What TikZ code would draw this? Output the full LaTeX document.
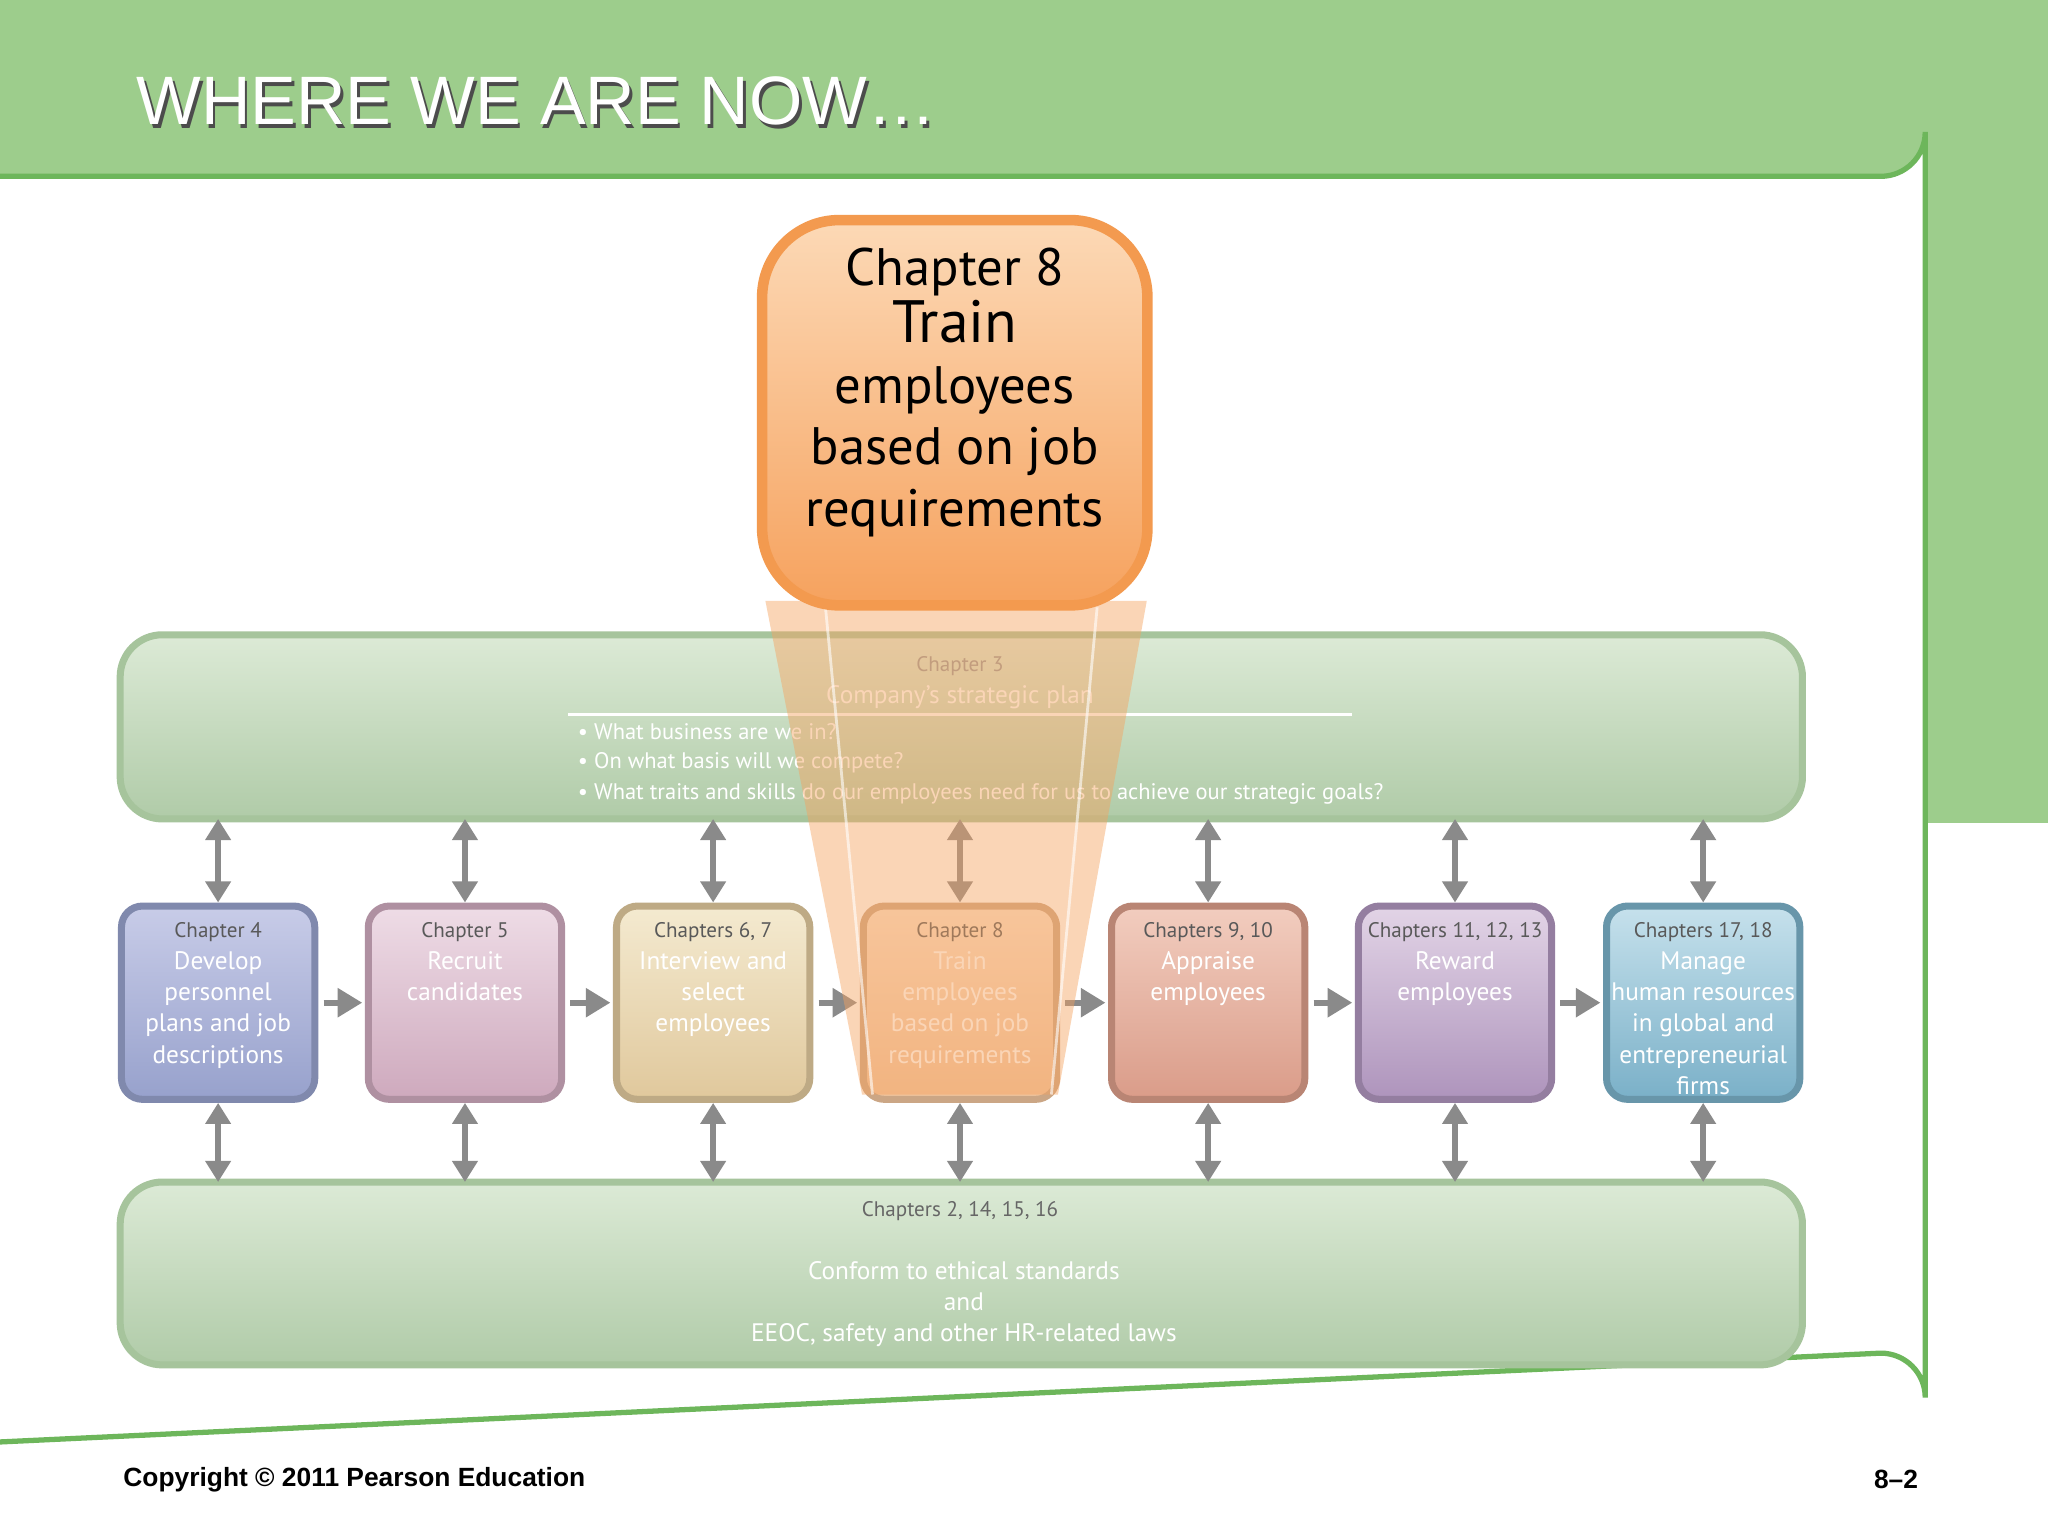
\documentclass[tikz,border=0pt]{standalone}
\usepackage{fontspec}
\setmainfont{PT Sans}
\newfontfamily\arial{Liberation Sans}
\usetikzlibrary{arrows.meta,calc}
\definecolor{hdr}{HTML}{9DCD8C}
\definecolor{hdrline}{HTML}{6DB65B}
\definecolor{gtop}{HTML}{DCEAD6}
\definecolor{gbot}{HTML}{B0CBA8}
\definecolor{gbord}{HTML}{A6C49C}
\definecolor{arr}{HTML}{8A8A8A}
\definecolor{orT}{HTML}{FCD9B6}
\definecolor{orB}{HTML}{F6A25E}
\definecolor{orBd}{HTML}{F39A4F}
\tikzset{
 px/.style={x=0.013061cm,y=-0.013061cm},
 panel/.style={rounded corners=12pt,draw=gbord,line width=2pt,top color=gtop,bottom color=gbot},
 chbox/.style={rounded corners=6pt,line width=2pt,minimum width=148*0.013061cm,minimum height=148*0.013061cm,anchor=north},
 chlab/.style={text=black!65,font=\fontsize{6}{7}\selectfont,anchor=north},
 chtxt/.style={text=white,font=\fontsize{7.2}{8.9}\selectfont,align=center,anchor=north},
 dbl/.style={arr,line width=1.6pt,{Triangle[length=6pt,width=7pt]}-{Triangle[length=6pt,width=7pt]}},
 rarr/.style={arr,line width=1.6pt,-{Triangle[length=7pt,width=8pt]}},
}
\begin{document}
\begin{tikzpicture}[px]
\useasboundingbox (0,0) rectangle (1568,1176);
% header
\fill[hdr] (0,0) rectangle (1568,135);
\fill[hdr] (1400,0) rectangle (1568,630);
\fill[white,draw=hdrline,line width=1.5pt] (0,135) -- (1440,135) arc[start angle=90,end angle=0,radius=34] -- (1474,1070) arc[start angle=0,end angle=-90,radius=34] -- (0,1104);
\node[anchor=west,text=black!70,font=\arial\fontsize{19.5}{22}\selectfont] at (97,80) {WHERE WE ARE NOW…};
\node[anchor=west,text=white,font=\arial\fontsize{19.5}{22}\selectfont] (title) at (95,77) {WHERE WE ARE NOW…};
% top panel
\draw[panel] (92,486) rectangle (1380,627);
\node[text=black!40,font=\fontsize{6}{7}\selectfont] (c3) at (735,510) {Chapter 3};
\node[text=white,font=\fontsize{7.2}{8}\selectfont] (c3t) at (735,534) {Company's strategic plan};
\draw[white,line width=0.8pt] (435,547) -- (1035,547);
\node[anchor=west,text=white,font=\fontsize{6.4}{7}\selectfont] (b1) at (433,560) {• What business are we in?};
\node[anchor=west,text=white,font=\fontsize{6.4}{7}\selectfont] (b2) at (433,584) {• On what basis will we compete?};
\node[anchor=west,text=white,font=\fontsize{6.4}{7}\selectfont] (b3) at (433,608) {• What traits and skills do our employees need for us to achieve our strategic goals?};
% bottom panel
\draw[panel] (92,905) rectangle (1380,1045);
\node[text=black!60,font=\fontsize{6}{7}\selectfont] (c2) at (735,927) {Chapters 2, 14, 15, 16};
\node[text=white,font=\fontsize{7.2}{8.9}\selectfont,align=center,anchor=north] (c2t) at (738,956) {Conform to ethical standards\\and\\EEOC, safety and other HR-related laws};
% chapter boxes
\foreach \n/\x/\ct/\cb/\lab/\txt in {
 a/167/C8CCE8/97A1CC/Chapter 4/{Develop\\personnel\\plans and job\\descriptions},
 b/356/EEDCE6/CEA9BD/Chapter 5/{Recruit\\candidates},
 c/546/F4EAD0/E0C89C/{Chapters 6, 7}/{Interview and\\select\\employees},
 d/735/F9E3CE/EFC39D/Chapter 8/{Train\\employees\\based on job\\requirements},
 e/925/F2CDBF/DA9C89/{Chapters 9, 10}/{Appraise\\employees},
 f/1114/E2D4E6/AE94BC/{Chapters 11, 12, 13}/{Reward\\employees},
 g/1304/C6E1EC/7AB0C8/{Chapters 17, 18}/{Manage\\human resources\\in global and\\entrepreneurial\\firms}}{
 \definecolor{ct}{HTML}{\ct}\definecolor{cb}{HTML}{\cb}
 \node[chbox,top color=ct,bottom color=cb,draw=cb!85!black] (\n) at (\x,691) {};
 \node[chlab] at (\x,697) {\lab};
 \node[chtxt] at (\x,719) {\txt};
 \coordinate (\n t) at (\x,627);
 \coordinate (\n b) at (\x,905);
 \draw[dbl] (\n t) -- (\n.north);
 \draw[dbl] (\n.south) -- (\n b);
}
\foreach \p/\q in {a/b,b/c,c/d,d/e,e/f,f/g}{\draw[rarr] ($(\p.east)+(4,0)$) -- ($(\q.west)+(-2,0)$);}
% beam
\fill[orB,opacity=0.45] (586,460) -- (878,460) -- (810,838) -- (660,838) -- cycle;
\draw[white,opacity=0.6,line width=0.8pt] (632,465) -- (668,838) (840,465) -- (805,838);
% big orange box
\node[rounded corners=22pt,draw=orBd,line width=3pt,top color=orT,bottom color=orB,minimum width=295*0.013061cm,minimum height=295*0.013061cm] (big) at (731,316) {};
\node[align=center,font=\fontsize{15}{17.4}\selectfont,anchor=north] (bigt) at (731,180) {Chapter 8\\[-1pt]{\fontsize{17}{17}\selectfont Train}\\employees\\based on job\\requirements};
% footer
\node[anchor=west,font=\arial\bfseries\fontsize{7.5}{9}\selectfont] (copy) at (85,1133) {Copyright © 2011 Pearson Education};
\node[anchor=east,font=\arial\bfseries\fontsize{7.5}{9}\selectfont] (pg) at (1478,1133) {8–2};
\end{tikzpicture}
\end{document}
